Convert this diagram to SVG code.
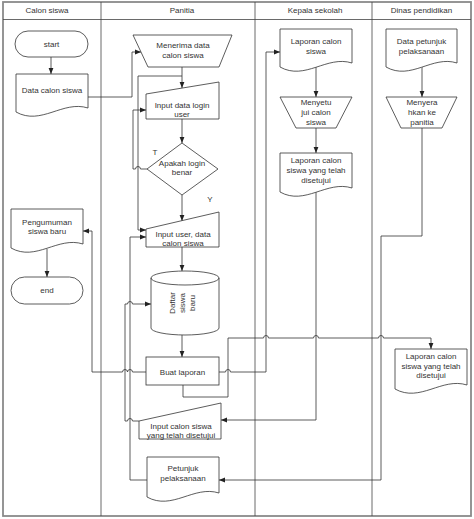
<svg xmlns="http://www.w3.org/2000/svg" width="474" height="519" viewBox="0 0 474 519">
<style>
text{font-family:"Liberation Sans",Arial,sans-serif;font-size:8px;fill:#333;text-anchor:middle}
.s{fill:#fff;stroke:#333;stroke-width:0.8}
.c{fill:none;stroke:#333;stroke-width:0.8}
.cm{fill:none;stroke:#333;stroke-width:0.8;marker-end:url(#arr)}
.lane{stroke:#444;stroke-width:0.8}
</style>
<defs>
<marker id="arr" viewBox="0 0 6 6" refX="6" refY="3" markerWidth="6" markerHeight="6" markerUnits="userSpaceOnUse" orient="auto"><path d="M0,0.6 L6,3 L0,5.4 z" fill="#222"/></marker>
</defs>
<rect width="474" height="519" fill="#fff"/>
<g id="lanes">
<rect x="3" y="2" width="468" height="514" fill="none" stroke="#8a8a8a" stroke-width="1.8"/>
<line class="lane" x1="3" y1="19.5" x2="471" y2="19.5"/>
<line class="lane" x1="101" y1="2" x2="101" y2="516"/>
<line class="lane" x1="255" y1="2" x2="255" y2="516"/>
<line class="lane" x1="372" y1="2" x2="372" y2="516"/>
<text x="47" y="13">Calon siswa</text>
<text x="182" y="13">Panitia</text>
<text x="315" y="13">Kepala sekolah</text>
<text x="421.5" y="13">Dinas pendidikan</text>
</g>
<g id="connectors">
<path class="cm" d="M51,57 V74"/>
<path class="cm" d="M88,97 H132 V52 H141"/>
<path class="cm" d="M182,67 V88"/>
<path class="cm" d="M182,76 H138 V230 H146"/>
<path class="cm" d="M182,119 V143"/>
<path class="cm" d="M147,169 H140.5 A2.5,2.5 0 0 0 135.5,169 H133 V110 H146"/>
<path class="cm" d="M182,195 V221"/>
<path class="cm" d="M182,247 V271"/>
<path class="cm" d="M182,335 V357"/>
<path class="cm" d="M147,480 H130 V237 H146"/>
<path class="cm" d="M139,421 H132.5 A2.5,2.5 0 0 0 127.5,421 H125 V304 H127.5 A2.5,2.5 0 0 1 132.5,304 H151"/>
<path class="cm" d="M146,372 H132.5 A2.5,2.5 0 0 0 127.5,372 A2.5,2.5 0 0 0 122.5,372 H92 V231 H83"/>
<path class="cm" d="M219,372 H225.5 A2.5,2.5 0 0 1 230.5,372 H266 V52 H280"/>
<path class="cm" d="M183,385 V397 H228 V338 H263.5 A2.5,2.5 0 0 1 268.5,338 H313.5 A2.5,2.5 0 0 1 318.5,338 H378.5 A2.5,2.5 0 0 1 383.5,338 H431 V349"/>
<path class="cm" d="M316,67 V97"/>
<path class="cm" d="M316,128 V153"/>
<path class="cm" d="M316,192 V420 H221"/>
<path class="cm" d="M422,67 V97"/>
<path class="cm" d="M422,128 V236 H381 V480 H219"/>
<path class="cm" d="M47,249 V277"/>
<text x="155" y="155">T</text>
<text x="210" y="202">Y</text>
</g>
<g id="start">
<rect class="s" x="15" y="31" width="73" height="26" rx="13"/>
<text x="51.5" y="47">start</text>
</g>
<g id="data-calon-siswa">
<path class="s" d="M16,74 H88 V108 C62.8,100 41.2,126 16,112 Z"/>
<text x="52" y="93">Data calon siswa</text>
</g>
<g id="pengumuman">
<path class="s" d="M11,209 H83 V244 C57.8,236 36.2,262 11,248 Z"/>
<text x="47" y="224.5">Pengumuman</text>
<text x="47" y="234">siswa baru</text>
</g>
<g id="end">
<rect class="s" x="11" y="277" width="72" height="27" rx="13.5"/>
<text x="47" y="293">end</text>
</g>
<g id="menerima">
<path class="s" d="M133,35 H232 L219,67 H148 Z"/>
<text x="183" y="48">Menerima data</text>
<text x="183" y="58">calon siswa</text>
</g>
<g id="input-login">
<path class="s" d="M146,94 L219,82 V119 H146 Z"/>
<text x="182" y="108">Input data login</text>
<text x="182" y="117">user</text>
</g>
<g id="apakah-login">
<path class="s" d="M182,143 L218,169 L182,195 L147,169 Z"/>
<text x="182" y="166">Apakah login</text>
<text x="182" y="175">benar</text>
</g>
<g id="input-user">
<path class="s" d="M146,229 L219,212 V247 H146 Z"/>
<text x="183" y="236.5">Input user, data</text>
<text x="183" y="246">calon siswa</text>
</g>
<g id="daftar-siswa">
<path class="s" d="M151,278 V328 A34,7 0 0 0 219,328 V278 A34,7 0 0 0 151,278 A34,7 0 0 0 219,278"/>
<g transform="translate(182,303) rotate(-90)">
<text x="0" y="-7">Daftar</text>
<text x="0" y="3">siswa</text>
<text x="0" y="13">baru</text>
</g>
</g>
<g id="buat-laporan">
<rect class="s" x="146" y="357" width="73" height="28"/>
<text x="182.5" y="375">Buat laporan</text>
</g>
<g id="input-calon-disetujui">
<path class="s" d="M139,421 L221,403 V439 H139 Z"/>
<text x="181" y="428.5">Input calon siswa</text>
<text x="181" y="437.5">yang telah disetujui</text>
</g>
<g id="petunjuk">
<path class="s" d="M147,457 H219 V493 C193.8,485 172.2,511 147,497 Z"/>
<text x="183" y="471">Petunjuk</text>
<text x="183" y="481">pelaksanaan</text>
</g>
<g id="laporan-calon">
<path class="s" d="M280,29 H352 V63 C326.8,55 305.2,81 280,67 Z"/>
<text x="316" y="44">Laporan calon</text>
<text x="316" y="54">siswa</text>
</g>
<g id="menyetujui">
<path class="s" d="M280,97 H352 L336,128 H296 Z"/>
<text x="316" y="104.5">Menyetu</text>
<text x="316" y="114.5">jui calon</text>
<text x="316" y="124.5">siswa</text>
</g>
<g id="laporan-disetujui-kepala">
<path class="s" d="M280,153 H352 V188 C326.8,180 305.2,206 280,192 Z"/>
<text x="316" y="163">Laporan calon</text>
<text x="316" y="173">siswa yang telah</text>
<text x="316" y="183">disetujui</text>
</g>
<g id="data-petunjuk">
<path class="s" d="M386,29 H457 V63 C432.2,55 410.9,81 386,67 Z"/>
<text x="421.5" y="44">Data petunjuk</text>
<text x="421.5" y="54">pelaksanaan</text>
</g>
<g id="menyerahkan">
<path class="s" d="M386,97 H457 L442,128 H401 Z"/>
<text x="422" y="104.5">Menyera</text>
<text x="422" y="114.5">hkan ke</text>
<text x="422" y="124.5">panitia</text>
</g>
<g id="laporan-disetujui-dinas">
<path class="s" d="M395,349 H467 V385 C441.8,377 420.2,403 395,389 Z"/>
<text x="431" y="359">Laporan calon</text>
<text x="431" y="369">siswa yang telah</text>
<text x="431" y="378">disetujui</text>
</g>
</svg>
